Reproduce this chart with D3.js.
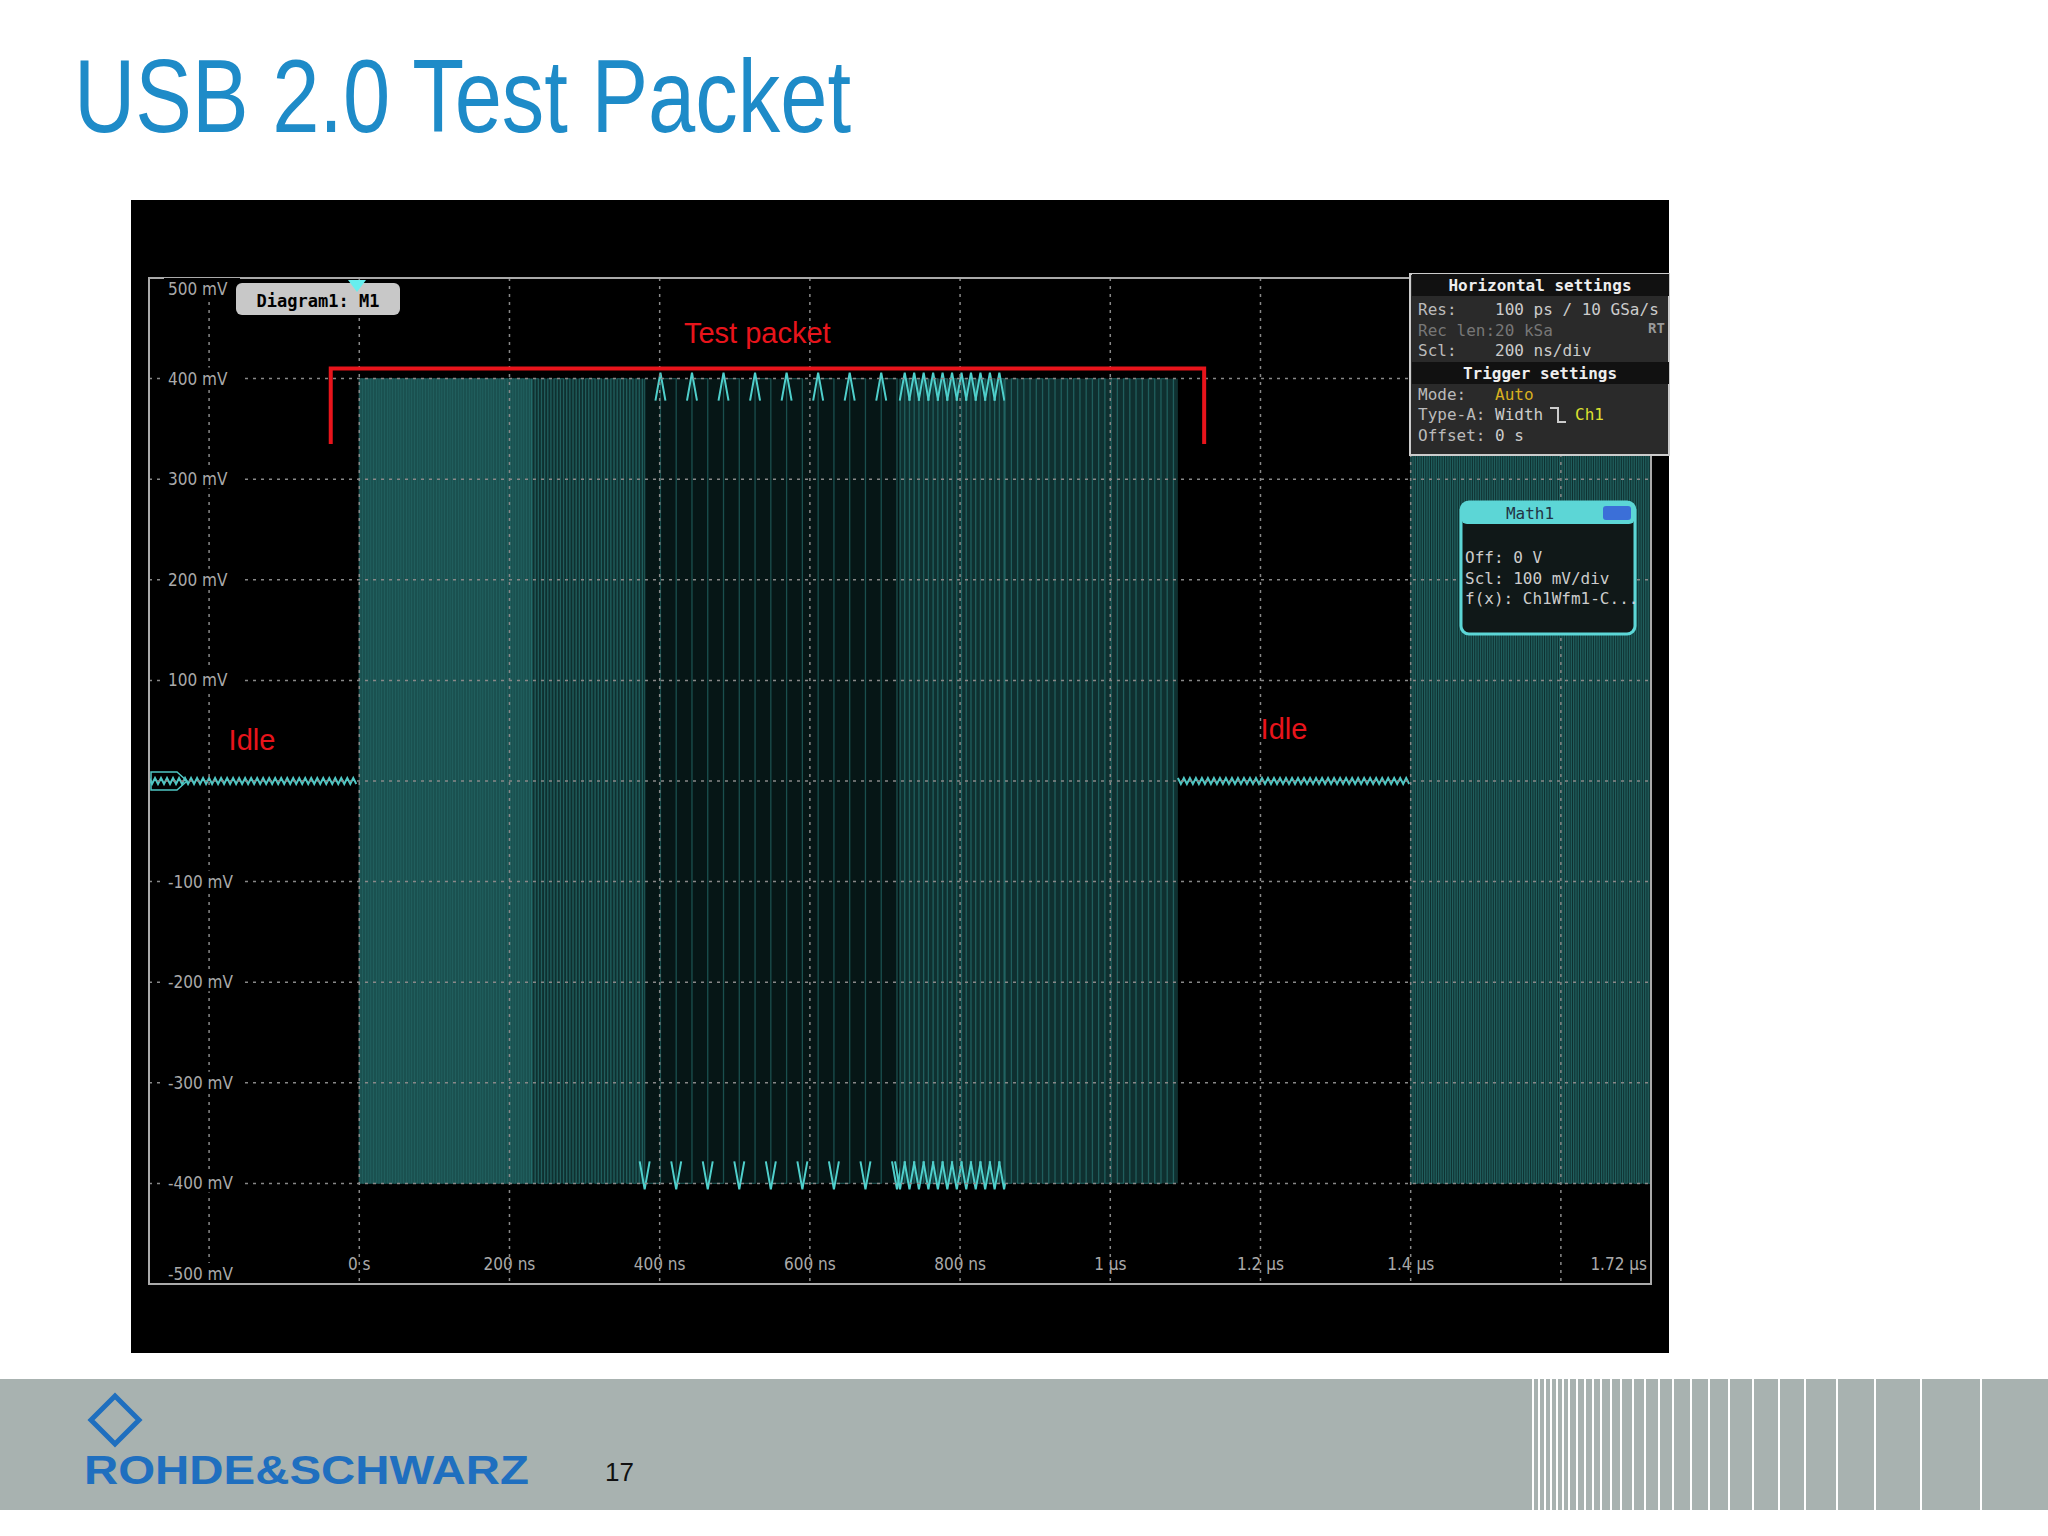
<!DOCTYPE html>
<html><head><meta charset="utf-8">
<script src="https://cdn.jsdelivr.net/npm/d3@7"></script>
<style>body{margin:0;background:#fff}</style>
</head><body>
<svg id="c" width="2048" height="1536"></svg>
<script>
// y ticks (mV) and x ticks (µs)
const yTicks = [500,400,300,200,100,0,-100,-200,-300,-400,-500];
const yLabels = ["500 mV","400 mV","300 mV","200 mV","100 mV","","-100 mV","-200 mV","-300 mV","-400 mV","-500 mV"];
const xTicks = [0,0.2,0.4,0.6,0.8,1.0,1.2,1.4,1.72];
const xLabels = ["0 s","200 ns","400 ns","600 ns","800 ns","1 µs","1.2 µs","1.4 µs","1.72 µs"];
const xGrid = [-0.2,0,0.2,0.4,0.6,0.8,1.0,1.2,1.4,1.6];
// packet segments: start µs, end µs, bit period ns, spike flag
const segStart = [0.00,0.23,0.38,0.72,0.86,1.40];
const segEnd   = [0.23,0.38,0.72,0.86,1.09,1.72];
const segPeriod= [2.1,4.2,21,6.3,8.3,3.1];
const segSpike = [0,0,1,1,0,0];
const idleRanges = [[-0.28,0],[1.09,1.40]];

const svg = d3.select("#c");
svg.append("text").attr("x",74).attr("y",132).attr("font-family","Liberation Sans, sans-serif")
  .attr("font-size",104).attr("fill","#1e8bc8").attr("textLength",777).attr("lengthAdjust","spacingAndGlyphs").text("USB 2.0 Test Packet");

// screenshot
svg.append("rect").attr("x",131).attr("y",200).attr("width",1538).attr("height",1153).attr("fill","#000");
const x = d3.scaleLinear().domain([-0.28,1.72]).range([149,1651]);
const y = d3.scaleLinear().domain([-500,500]).range([1284,278]);

// waveform
const wf = svg.append("g");
segStart.forEach((s,i)=>{
  wf.append("rect").attr("x",x(s)).attr("width",x(segEnd[i])-x(s)).attr("y",y(400)).attr("height",y(-400)-y(400))
    .attr("fill",segPeriod[i]>15?"#061616":"#0f3030");
  const pts=[]; let lv=1;
  for(let t=s; t<segEnd[i]; t+=segPeriod[i]/1000){
    pts.push([t,lv*400]); lv=-lv; pts.push([t,lv*400]);
  }
  wf.append("path").attr("d",d3.line().x(d=>x(d[0])).y(d=>y(d[1]))(pts))
    .attr("fill","none").attr("stroke","#3aa5a2").attr("stroke-opacity",0.4).attr("stroke-width",1.3);
  if(segSpike[i]){
    wf.selectAll(null).data(pts.filter((p,k)=>k%2==1)).enter().append("path")
      .attr("d",d=>{const px=x(d[0]),py=y(d[1]);const s2=d[1]>0?1:-1;
        return `M${px-5},${py+s2*22}L${px},${py-s2*6}L${px+5},${py+s2*22}`;})
      .attr("fill","none").attr("stroke","#4fd0cc").attr("stroke-width",2);
  }
});
idleRanges.forEach(r=>{
  wf.append("path").attr("d",d3.line().x(d=>x(d)).y((d,k)=>y(k%2?-3:3))(d3.range(r[0],r[1],0.004)))
    .attr("fill","none").attr("stroke","#4fc6c3").attr("stroke-width",2);
});

const g = svg.append("g");
g.selectAll(".hg").data(yTicks.slice(1,-1)).enter().append("line")
  .attr("x1",149).attr("x2",1651).attr("y1",d=>y(d)).attr("y2",d=>y(d))
  .attr("stroke","#888").attr("stroke-dasharray","3,5").attr("stroke-width",1.5);
g.selectAll(".vg").data(xGrid).enter().append("line")
  .attr("y1",278).attr("y2",1284).attr("x1",d=>x(d)).attr("x2",d=>x(d))
  .attr("stroke","#888").attr("stroke-dasharray","3,5").attr("stroke-width",1.5);

// frame
svg.append("rect").attr("x",149).attr("y",278).attr("width",1502).attr("height",1006)
  .attr("fill","none").attr("stroke","#aaa").attr("stroke-width",2);

// labels
const lab = svg.append("g").attr("font-family","DejaVu Sans Condensed, DejaVu Sans").attr("font-size",17).attr("fill","#aaa");
yTicks.forEach((v,i)=>{ if(!yLabels[i]) return;
  lab.append("rect").attr("x",164).attr("y",y(v)-11-(v==500?-11:0)-(v==-500?10:0)).attr("width",76).attr("height",20).attr("fill","#000");
  lab.append("text").attr("x",168).attr("y",y(v)+6+(v==500?11:0)-(v==-500?10:0)).text(yLabels[i]);
});
xTicks.forEach((v,i)=>{
  lab.append("text").attr("x",x(v)+(v==1.72?-4:0)).attr("y",1270).attr("text-anchor",v==1.72?"end":"middle").text(xLabels[i]);
});
svg.append("path").attr("d",`M151,${y(0)-9}h26l10,9l-10,9h-26z`).attr("fill","none").attr("stroke","#4fc6c3").attr("stroke-width",1.5);

// diagram tab
svg.append("rect").attr("x",236).attr("y",283).attr("width",164).attr("height",32).attr("rx",6).attr("fill","#c8c8c8");
svg.append("text").attr("x",318).attr("y",307).attr("text-anchor","middle").attr("font-family","DejaVu Sans Mono").attr("font-weight","bold").attr("font-size",17).text("Diagram1: M1");
svg.append("path").attr("d","M348,280h18l-9,12z").attr("fill","#6ee");

// annotations
const red="#e8141b";
svg.append("path").attr("d",`M${x(-0.038)},${y(335)}V${y(410)}H${x(1.125)}V${y(335)}`).attr("fill","none").attr("stroke",red).attr("stroke-width",4);
const ann = svg.append("g").attr("font-family","Liberation Sans, Arial").attr("font-size",29).attr("fill",red);
ann.append("text").attr("x",x(0.53)).attr("y",343).attr("text-anchor","middle").text("Test packet");
ann.append("text").attr("x",252).attr("y",750).attr("text-anchor","middle").text("Idle");
ann.append("text").attr("x",1284).attr("y",739).attr("text-anchor","middle").text("Idle");

// horizontal settings panel
const p = svg.append("g").attr("font-family","DejaVu Sans Mono").attr("font-size",16);
p.append("rect").attr("x",1410).attr("y",274).attr("width",259).attr("height",181).attr("fill","#2a2a2a").attr("stroke","#ccc").attr("stroke-width",2);
p.append("rect").attr("x",1412).attr("y",274).attr("width",257).attr("height",22).attr("fill","#111");
p.append("rect").attr("x",1412).attr("y",362).attr("width",257).attr("height",22).attr("fill","#111");
p.append("text").attr("x",1540).attr("y",291).attr("text-anchor","middle").attr("fill","#eee").attr("font-weight","bold").text("Horizontal settings");
p.append("text").attr("x",1540).attr("y",379).attr("text-anchor","middle").attr("fill","#eee").attr("font-weight","bold").text("Trigger settings");
const rows=[["Res:","100 ps / 10 GSa/s",315,"#ccc"],["Rec len:","20 kSa",336,"#777"],["Scl:","200 ns/div",356,"#ccc"],["Mode:","Auto",400,"#d8b020"],["Type-A:","Width",420,"#ccc"],["Offset:","0 s",441,"#ccc"]];
rows.forEach(r=>{p.append("text").attr("x",1418).attr("y",r[2]).attr("fill",r[3]=="#777"?"#777":"#bbb").text(r[0]);
  p.append("text").attr("x",1495).attr("y",r[2]).attr("fill",r[3]).text(r[1]);});
p.append("text").attr("x",1575).attr("y",420).attr("fill","#dde030").text("Ch1");
p.append("text").attr("x",1648).attr("y",333).attr("fill","#999").attr("font-weight","bold").attr("font-size",14).text("RT");
p.append("path").attr("d","M1550,408h8v14h8").attr("fill","none").attr("stroke","#ccc").attr("stroke-width",2);

// Math1 box
const m = svg.append("g").attr("font-family","DejaVu Sans Mono").attr("font-size",16);
m.append("rect").attr("x",1461).attr("y",502).attr("width",174).attr("height",132).attr("rx",8).attr("fill","#101818").attr("stroke","#5cd6d6").attr("stroke-width",3);
m.append("rect").attr("x",1461).attr("y",502).attr("width",174).attr("height",22).attr("rx",6).attr("fill","#5cd6d6");
m.append("text").attr("x",1530).attr("y",519).attr("text-anchor","middle").attr("fill","#234").text("Math1");
m.append("rect").attr("x",1603).attr("y",506).attr("width",28).attr("height",14).attr("rx",3).attr("fill","#3b6fd8");
[["Off: 0 V",563],["Scl: 100 mV/div",584],["f(x): Ch1Wfm1-C...",604]].forEach(r=>
  m.append("text").attr("x",1465).attr("y",r[1]).attr("fill","#ccc").text(r[0]));

// footer
svg.append("rect").attr("x",0).attr("y",1379).attr("width",2048).attr("height",131).attr("fill","#a8b2b0");
const stripes=[1532,1538,1544,1550,1556,1562,1568,1576,1584,1592,1600,1610,1620,1632,1644,1658,1672,1690,1708,1728,1752,1778,1804,1836,1874,1920,1980];
svg.selectAll(".st").data(stripes).enter().append("rect").attr("x",d=>d).attr("y",1379).attr("width",2).attr("height",131).attr("fill","#fff");
svg.append("text").attr("x",84).attr("y",1484).attr("font-family","Liberation Sans, Arial").attr("font-weight","bold").attr("font-size",40).attr("fill","#1f6fbf").attr("textLength",445).attr("lengthAdjust","spacingAndGlyphs").text("ROHDE&SCHWARZ");
svg.append("path").attr("d","M115,1396l24,24l-24,24l-24,-24z").attr("fill","none").attr("stroke","#1f6fbf").attr("stroke-width",5);
svg.append("text").attr("x",605).attr("y",1481).attr("font-family","Liberation Sans, Arial").attr("font-size",26).attr("fill","#111").text("17");
</script>
</body></html>
